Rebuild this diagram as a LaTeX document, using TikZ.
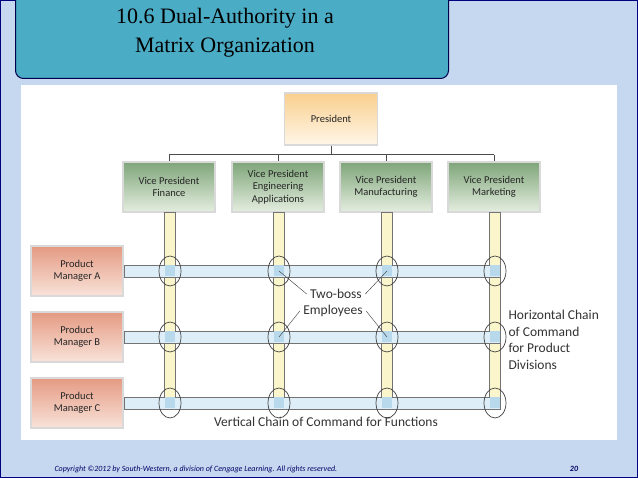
\documentclass[tikz,border=0pt]{standalone}
\usepackage{fontspec}
\setmainfont{Carlito}
\newfontfamily\tnr{Liberation Serif}
\usetikzlibrary{shapes.geometric}
\definecolor{bgc}{HTML}{C6D8EF}
\definecolor{ttl}{HTML}{4BACC6}
\definecolor{vpt}{HTML}{7FA57A}
\definecolor{vpb}{HTML}{E4EEDF}
\definecolor{pmt}{HTML}{E49A82}
\definecolor{pmb}{HTML}{F9E3DA}
\definecolor{prt}{HTML}{F9CF8E}
\definecolor{prb}{HTML}{FFF6E8}
\definecolor{ylw}{HTML}{FBF5CC}
\definecolor{hbl}{HTML}{DDEEF8}
\definecolor{ixc}{HTML}{B8D8EC}
\begin{document}
\begin{tikzpicture}[x=1pt,y=-1pt,
  box/.style={draw=gray!30,line width=1.5pt,minimum height=50pt,align=center,font=\fontsize{10.5}{12.5}\selectfont,text=black!85},
  vp/.style={box,minimum width=92pt,top color=vpt,bottom color=vpb},
  pm/.style={box,minimum width=92pt,top color=pmt,bottom color=pmb},
  vbar/.style={fill=ylw,draw=black!55,line width=0.8pt},
  hbar/.style={fill=hbl,draw=black!55,line width=0.8pt},
  ring/.style={draw=black!75,line width=0.7pt,ellipse,minimum width=22pt,minimum height=30pt,inner sep=0pt},
  lbl/.style={font=\fontsize{13.5}{15}\selectfont,text=black!80}]
\fill[bgc] (0,0) rectangle (638,478);
\useasboundingbox (0,0) rectangle (638,478);
\draw[blue!50!black,line width=1pt] (0.5,0.5) rectangle (637.5,477.5);
\node[draw=blue!30!black,line width=1pt,fill=ttl,rounded corners=8pt,minimum width=433pt,minimum height=90pt,anchor=north west] (title) at (15,-12) {};
\node[font=\tnr\fontsize{22}{29}\selectfont,align=center] (tt) at (225,33) {10.6 Dual-Authority in a\\Matrix Organization};
\fill[white] (21,85) rectangle (617,440);
\node[box,minimum width=93pt,minimum height=52pt,top color=prt,bottom color=prb] (pres) at (331,119) {President};
\node[vp] (v1) at (169,187) {Vice President\\Finance};
\node[vp] (v2) at (278,187) {Vice President\\Engineering\\Applications};
\node[vp] (v3) at (386,187) {Vice President\\Manufacturing};
\node[vp] (v4) at (494,187) {Vice President\\Marketing};
\coordinate (bus) at (331,155);
\draw[black!70,line width=1pt] (pres.south) -- (bus) (v1.north|-bus) -- (v4.north|-bus);
\foreach \v in {v1,v2,v3,v4} \draw[black!70,line width=1pt] (\v.north|-bus) -- (\v.north);
\node[pm] (p1) at (77,271) {Product\\Manager A};
\node[pm] (p2) at (77,337) {Product\\Manager B};
\node[pm] (p3) at (77,403) {Product\\Manager C};
\foreach \x in {170,279,387,495} \draw[vbar] (\x-5.5,212) rectangle (\x+5.5,409);
\foreach \y in {271,337,403} \draw[hbar] (124,\y-6) rectangle (500.5,\y+6);
\foreach \x in {170,279,387,495} \foreach \y in {271,337,403}
  \fill[ixc] (\x-5,\y-5.5) rectangle (\x+5,\y+5.5);
\foreach \x in {170,279,387,495} \foreach \y in {271,337,403}
  \node[ring] (c-\x-\y) at (\x,\y) {};
\node[lbl] (tb) at (336,294) {Two-boss};
\node[lbl] (em) at (333,311) {Employees};
\draw[black!80] (c-279-271.center) -- (tb.west);
\draw[black!80] (c-387-271.center) -- (tb.east);
\draw[black!80] (c-279-337.center) -- (em.west);
\draw[black!80] (c-387-337.center) -- (em.east);
\node[lbl,anchor=west,align=left,font=\fontsize{13.5}{16.5}\selectfont] (hc) at (505,340) {Horizontal Chain\\of Command\\for Product\\Divisions};
\node[lbl] (vc) at (326,422) {Vertical Chain of Command for Functions};
\node[anchor=west,font=\itshape\fontsize{8}{9}\selectfont,text=blue!40!black] (cp) at (51,469) {Copyright ©2012 by South-Western, a division of Cengage Learning. All rights reserved.};
\node[font=\bfseries\itshape\fontsize{8}{9}\selectfont,text=blue!40!black] (pg) at (574,469) {20};
\end{tikzpicture}
\end{document}
